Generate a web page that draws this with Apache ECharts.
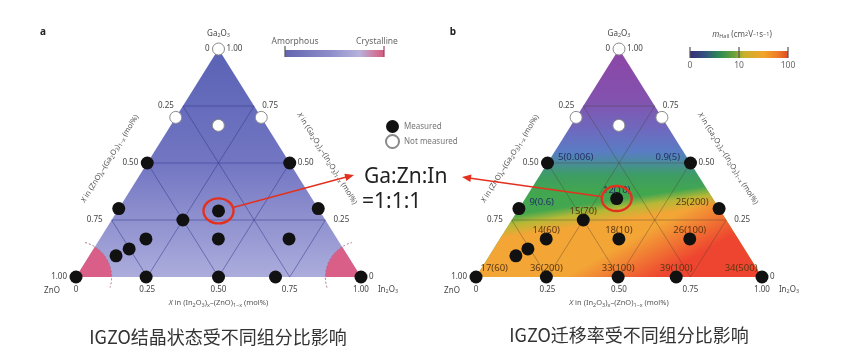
<!DOCTYPE html>
<html>
<head>
<meta charset="utf-8">
<script src="https://cdn.jsdelivr.net/npm/echarts@6/dist/echarts.min.js"></script>
<style>
  html, body { margin: 0; background: #fff; }
  #chart { width: 844px; height: 355px; }
</style>
</head>
<body>
<div id="chart"></div>
<script>
// compositions are [Ga2O3, In2O3] mole fractions, ZnO is the rest
const triangle = [[0, 0], [0, 1], [1, 0]]; // ZnO, In2O3, Ga2O3 corners
const tickValues = [0, 0.25, 0.5, 0.75, 1];
const tickLabels = ['0', '0.25', '0.50', '0.75', '1.00'];
const gridFractions = [0.25, 0.5, 0.75];
const crystallineLimit = 0.875; // ZnO / In2O3 fraction where films crystallise

const measuredA = [
  [0.5, 0], [0.5, 0.5], [0.29, 0.355], [0.3, 0], [0.3, 0.7], [0.25, 0.25],
  [0.167, 0.162], [0.167, 0.416], [0.167, 0.664], [0.123, 0.125], [0.093, 0.094],
  [0, 0], [0, 0.246], [0, 0.5], [0, 0.7], [0, 1]
];
const measuredB = [
  [0.5, 0], [0.5, 0.5], [0.344, 0.32], [0.3, 0], [0.3, 0.7], [0.25, 0.25],
  [0.167, 0.162], [0.167, 0.416], [0.167, 0.664], [0.123, 0.12], [0.093, 0.093],
  [0, 0], [0, 0.246], [0, 0.497], [0, 0.7], [0, 1]
];
// Hall mobility (carrier concentration) labels for measuredB
const mobilityLabels = [
  '5(0.006)', '0.9(5)', '12(10)', '9(0.6)', '25(200)', '15(70)',
  '14(60)', '18(10)', '26(100)', '', '',
  '17(60)', '36(200)', '33(100)', '39(100)', '34(500)'
];
const notMeasured = [[1, 0], [0.7, 0], [0.7, 0.3], [0.665, 0.167]];
const highlightA = [0.29, 0.355];
const highlightB = [0.344, 0.32];

const FONT = '"Noto Sans", "DejaVu Sans", sans-serif';
const CJK = '"Noto Sans CJK SC", sans-serif';
const G = echarts.graphic;

// ternary -> cartesian axis values
const tern = (ga, inn) => [inn + ga / 2, ga];

function corners(api) {
  return triangle.map(c => api.coord(tern(c[0], c[1])));
}

function bgA(params, api) {
  const pts = corners(api);
  const zn = pts[0], inn = pts[1], top = pts[2];
  const edge = api.coord(tern(0, 1 - crystallineLimit));
  const r = edge[0] - zn[0];
  const a0 = Math.atan2(top[1] - zn[1], top[0] - zn[0]);
  const a1 = Math.atan2(top[1] - inn[1], top[0] - inn[0]) + 2 * Math.PI;
  const pink = '#da5f88';
  const dash = { stroke: '#a8708c', lineWidth: 1, lineDash: [2, 2], fill: null };
  return {
    type: 'group',
    children: [
      {
        type: 'polygon', shape: { points: pts },
        style: { fill: new G.LinearGradient(0, 0, 0, 1, [
          { offset: 0, color: '#5a62b5' }, { offset: 0.5, color: '#7276c2' }, { offset: 1, color: '#acacdc' }
        ]) }
      },
      { type: 'sector', shape: { cx: zn[0], cy: zn[1], r0: 0, r: r, startAngle: a0, endAngle: 0, clockwise: true }, style: { fill: pink } },
      { type: 'sector', shape: { cx: inn[0], cy: inn[1], r0: 0, r: r, startAngle: Math.PI, endAngle: a1, clockwise: true }, style: { fill: pink } },
      { type: 'arc', shape: { cx: zn[0], cy: zn[1], r: r, startAngle: a0 - 0.3, endAngle: 0.3, clockwise: true }, style: dash },
      { type: 'arc', shape: { cx: inn[0], cy: inn[1], r: r, startAngle: Math.PI - 0.3, endAngle: a1 + 0.3, clockwise: true }, style: dash }
    ]
  };
}

// gradient perpendicular to the line p->q, from `before` px on one side to `after` px on the other
function sideGradient(p, q, before, after, stops) {
  const dx = q[0] - p[0], dy = q[1] - p[1];
  const len = Math.hypot(dx, dy);
  let nx = -dy / len, ny = dx / len;
  if (ny < 0) { nx = -nx; ny = -ny; }
  const mx = (p[0] + q[0]) / 2, my = (p[1] + q[1]) / 2;
  return new G.LinearGradient(mx - nx * before, my - ny * before, mx + nx * after, my + ny * after, stops, true);
}

function bgB(params, api) {
  const pts = corners(api);
  const warmL = api.coord(tern(0.24, 0)), warmR = api.coord(tern(0.37, 0.63));
  const redL = api.coord(tern(0, 0.42)), redR = api.coord(tern(0.3, 0.7));
  return {
    type: 'group',
    children: [
      {
        type: 'polygon', shape: { points: pts },
        style: { fill: new G.LinearGradient(0, 0, 0, 1, [
          { offset: 0, color: '#8d45a6' }, { offset: 0.22, color: '#8352ae' },
          { offset: 0.36, color: '#6d6abf' }, { offset: 0.45, color: '#5a7cc4' },
          { offset: 0.5, color: '#4a8c9c' }, { offset: 0.55, color: '#3d9c66' },
          { offset: 0.62, color: '#42a650' }, { offset: 1, color: '#48aa48' }
        ]) }
      },
      {
        type: 'polygon', shape: { points: pts },
        style: { fill: sideGradient(warmL, warmR, 7, 14, [
          { offset: 0, color: 'rgba(200,190,50,0)' }, { offset: 0.45, color: 'rgba(212,188,48,0.8)' },
          { offset: 1, color: '#f3a536' }
        ]) }
      },
      {
        type: 'polygon', shape: { points: pts },
        style: { fill: sideGradient(redL, redR, 15, 30, [
          { offset: 0, color: 'rgba(238,70,48,0)' }, { offset: 1, color: '#ee4530' }
        ]) }
      }
    ]
  };
}

const segments = [];
gridFractions.forEach(t => {
  segments.push([t, 0, t, 1 - t]);       // constant Ga2O3
  segments.push([0, t, 1 - t, t]);       // constant In2O3
  segments.push([0, 1 - t, 1 - t, 0]);   // constant ZnO
});

function gridLines(color, width) {
  return function (params, api) {
    const a = api.coord(tern(api.value(0), api.value(1)));
    const b = api.coord(tern(api.value(2), api.value(3)));
    return { type: 'line', shape: { x1: a[0], y1: a[1], x2: b[0], y2: b[1] }, style: { stroke: color, lineWidth: width } };
  };
}

const sub = { fontSize: 5.5, lineHeight: 6, verticalAlign: 'bottom', fontFamily: FONT, fill: '#555' };
const txt = (x, y, text, align, extra) => ({
  type: 'text', x: x, y: y,
  style: Object.assign({ text: text, fill: '#444', fontSize: 8, fontFamily: FONT, align: align, verticalAlign: 'middle' }, extra)
});

function tickText(params, api) {
  const t = api.value(0), label = tickLabels[api.value(1)];
  const l = api.coord(tern(1 - t, 0));
  const r = api.coord(tern(t, 1 - t));
  const b = api.coord(tern(0, t));
  return {
    type: 'group',
    children: [
      txt(l[0] - 9, l[1], label, 'right'),
      txt(r[0] + 8, r[1], label, 'left'),
      txt(b[0], b[1] + 13, label, 'center')
    ]
  };
}

const titleRich = {
  s: { fontSize: 5.5, lineHeight: 6, verticalAlign: 'bottom', fill: '#555', fontFamily: FONT },
  i: { fontStyle: 'italic', fontSize: 7.5, fill: '#555', fontFamily: FONT }
};

function frameText(params, api) {
  const pts = corners(api);
  const zn = pts[0], inn = pts[1], top = pts[2];
  const ang = Math.atan2(zn[1] - top[1], top[0] - zn[0]);
  const lMid = api.coord(tern(0.44, 0));
  const rMid = api.coord(tern(0.44, 0.56));
  const off = 34;
  const nL = [-Math.sin(ang), -Math.cos(ang)];
  const nR = [Math.sin(ang), -Math.cos(ang)];
  const tStyle = { fontSize: 7.5, fill: '#555', rich: titleRich, lineHeight: 10 };
  const cStyle = { fontSize: 8, rich: { s: sub } };
  return {
    type: 'group',
    children: [
      txt(top[0], top[1] - 15, 'Ga{s|2}O{s|3}', 'center', cStyle),
      txt(zn[0] - 24, zn[1] + 14, 'ZnO', 'center'),
      txt(inn[0] + 27, inn[1] + 13, 'In{s|2}O{s|3}', 'center', cStyle),
      txt((zn[0] + inn[0]) / 2, zn[1] + 26, '{i|X} in (In{s|2}O{s|3}){s|x}–(ZnO){s|1−x} (mol%)', 'center', tStyle),
      Object.assign(txt(lMid[0] + nL[0] * off, lMid[1] + nL[1] * off,
        '{i|X} in (ZnO){s|x}–(Ga{s|2}O{s|3}){s|1−x} (mol%)', 'center', tStyle), { rotation: ang }),
      Object.assign(txt(rMid[0] + nR[0] * off, rMid[1] + nR[1] * off,
        '{i|X} in (Ga{s|2}O{s|3}){s|x}–(In{s|2}O{s|3}){s|1−x} (mol%)', 'center', tStyle), { rotation: -ang })
    ]
  };
}

// "Ga:Zn:In =1:1:1" note between the panels
const note = { x: 364, y: 177 };
const noteTips = [[note.x - 10, note.y - 2], [note.x + 98, note.y]];

function highlight(tip) {
  return function (params, api) {
    const c = api.coord(tern(api.value(0), api.value(1)));
    const rx = 15, ry = 12.5;
    const dx = tip[0] - c[0], dy = tip[1] - c[1];
    const len = Math.hypot(dx, dy);
    const ux = dx / len, uy = dy / len;
    const head = 9, half = 3.8;
    const bx = tip[0] - ux * head, by = tip[1] - uy * head;
    const red = '#e2321f';
    return {
      type: 'group',
      children: [
        { type: 'ellipse', shape: { cx: c[0], cy: c[1], rx: rx, ry: ry }, style: { stroke: red, lineWidth: 2.4, fill: null } },
        { type: 'line', shape: { x1: c[0] + ux * (rx + 1), y1: c[1] + uy * (ry + 2), x2: bx + ux * 2, y2: by + uy * 2 }, style: { stroke: red, lineWidth: 1.6 } },
        { type: 'polygon', shape: { points: [tip, [bx - uy * half, by + ux * half], [bx + uy * half, by - ux * half]] }, style: { fill: red } }
      ]
    };
  };
}

function labelPlacement(p) {
  const ga = p[0], inn = p[1];
  if (ga === 0 && inn === 0) return { position: 'right', distance: -2, offset: [0, -9] };
  if (ga === 0 && inn === 1) return { position: 'left', distance: -2, offset: [0, -9] };
  if (inn === 0) return { position: 'right', distance: 4, offset: [0, -6] };
  if (Math.abs(ga + inn - 1) < 1e-6) return { position: 'left', distance: 4, offset: [0, -6] };
  return { position: 'top', distance: -3, offset: [0, 0] };
}

function pointData(points, labels) {
  return points.map((p, i) => {
    const item = { value: tern(p[0], p[1]) };
    if (labels && labels[i]) {
      item.label = Object.assign({
        show: true, formatter: labels[i], fontSize: 9.5, fontFamily: FONT,
        color: (p[0] >= 0.3 && p[1] < 0.6) ? '#24306c' : '#5c3812'
      }, labelPlacement(p));
    }
    return item;
  });
}

function panel(i, bg, lineColor, measured, labels, hl) {
  const axes = { xAxisIndex: i, yAxisIndex: i, coordinateSystem: 'cartesian2d', silent: true };
  return [
    Object.assign({ type: 'custom', z: 1, data: [[0, 0]], renderItem: bg }, axes),
    Object.assign({ type: 'custom', z: 2, data: segments, renderItem: gridLines(lineColor, 0.9) }, axes),
    Object.assign({ type: 'custom', z: 2, data: tickValues.map((t, k) => [t, k]), renderItem: tickText }, axes),
    Object.assign({ type: 'custom', z: 2, data: [[0, 0]], renderItem: frameText }, axes),
    Object.assign({
      type: 'scatter', name: 'Measured', z: 3, symbolSize: 13,
      itemStyle: { color: '#111', opacity: 1 }, data: pointData(measured, labels)
    }, axes),
    Object.assign({
      type: 'scatter', name: 'Not measured', z: 3, symbolSize: 12,
      itemStyle: { color: '#fff', borderColor: '#8a8a8a', borderWidth: 1, opacity: 1 },
      data: pointData(notMeasured)
    }, axes),
    Object.assign({ type: 'custom', z: 5, data: [hl], renderItem: highlight(noteTips[i]) }, axes)
  ];
}

const barTick = (x, y1, y2, color) => ({ type: 'line', shape: { x1: x, y1: y1, x2: x, y2: y2 }, style: { stroke: color || '#555', lineWidth: 1.2 } });
const gText = (x, y, text, extra) => ({
  type: 'text', x: x, y: y,
  style: Object.assign({ text: text, fill: '#666', fontSize: 8.5, fontFamily: FONT, align: 'center', verticalAlign: 'middle' }, extra)
});

const chart = echarts.init(document.getElementById('chart'));
chart.setOption({
  animation: false,
  grid: [
    { left: 76, top: 49, width: 285, height: 228 },
    { left: 476, top: 49, width: 286, height: 228 }
  ],
  xAxis: [0, 1].map(i => ({ gridIndex: i, type: 'value', min: 0, max: 1, show: false })),
  yAxis: [0, 1].map(i => ({ gridIndex: i, type: 'value', min: 0, max: 1, show: false })),
  legend: {
    data: ['Measured', 'Not measured'], orient: 'vertical', left: 380, top: 115,
    itemWidth: 13, itemHeight: 13, itemGap: 1, icon: 'circle',
    textStyle: { fontSize: 8, color: '#777', fontFamily: FONT }
  },
  graphic: [
    gText(43, 32, 'a', { fill: '#222', fontSize: 10, fontWeight: 'bold' }),
    gText(453, 32, 'b', { fill: '#222', fontSize: 10, fontWeight: 'bold' }),
    // crystallinity bar
    gText(295, 42, 'Amorphous'),
    gText(377, 42, 'Crystalline'),
    {
      type: 'rect', shape: { x: 285, y: 50, width: 99, height: 7 },
      style: { fill: new G.LinearGradient(0, 0, 1, 0, [
        { offset: 0, color: '#6464b0' }, { offset: 0.45, color: '#8c8cca' },
        { offset: 0.75, color: '#b6b2dc' }, { offset: 0.93, color: '#d27294' }, { offset: 1, color: '#d05a80' }
      ]) }
    },
    barTick(285, 46, 57), barTick(384, 46, 57, '#a04060'),
    // mobility bar
    gText(742, 35, '{i|m}{s|Hall} (cm{p|2}V{p|−1}s{p|−1})', {
      fill: '#555', fontSize: 8,
      rich: {
        i: { fontStyle: 'italic', fontSize: 8, fill: '#555', fontFamily: FONT },
        s: { fontSize: 5.5, lineHeight: 6, verticalAlign: 'bottom', fill: '#555', fontFamily: FONT },
        p: { fontSize: 5.5, lineHeight: 6, verticalAlign: 'top', fill: '#555', fontFamily: FONT }
      }
    }),
    {
      type: 'rect', shape: { x: 690, y: 51, width: 98, height: 7 },
      style: { fill: new G.LinearGradient(0, 0, 1, 0, [
        { offset: 0, color: '#3a2d78' }, { offset: 0.15, color: '#34517e' }, { offset: 0.3, color: '#2f8a55' },
        { offset: 0.45, color: '#6aa33a' }, { offset: 0.55, color: '#c8b02e' }, { offset: 0.75, color: '#f2a52a' },
        { offset: 0.9, color: '#ee7a25' }, { offset: 1, color: '#e04a20' }
      ]) }
    },
    barTick(690, 47, 58), barTick(739, 47, 58), barTick(788, 47, 58),
    gText(690, 66, '0'), gText(739, 66, '10'), gText(788, 66, '100'),
    // note
    gText(note.x, note.y, 'Ga:Zn:In', { fill: '#222', fontSize: 21, align: 'left' }),
    gText(note.x - 2, note.y + 25, '=1:1:1', { fill: '#222', fontSize: 21, align: 'left' }),
    // captions
    gText(218, 337, 'IGZO结晶状态受不同组分比影响', { fill: '#333', fontSize: 18, fontFamily: CJK }),
    gText(629, 335, 'IGZO迁移率受不同组分比影响', { fill: '#333', fontSize: 18, fontFamily: CJK })
  ],
  series: [].concat(
    panel(0, bgA, 'rgba(45,50,135,0.55)', measuredA, null, highlightA),
    panel(1, bgB, 'rgba(70,60,40,0.4)', measuredB, mobilityLabels, highlightB)
  )
});
</script>
</body>
</html>
